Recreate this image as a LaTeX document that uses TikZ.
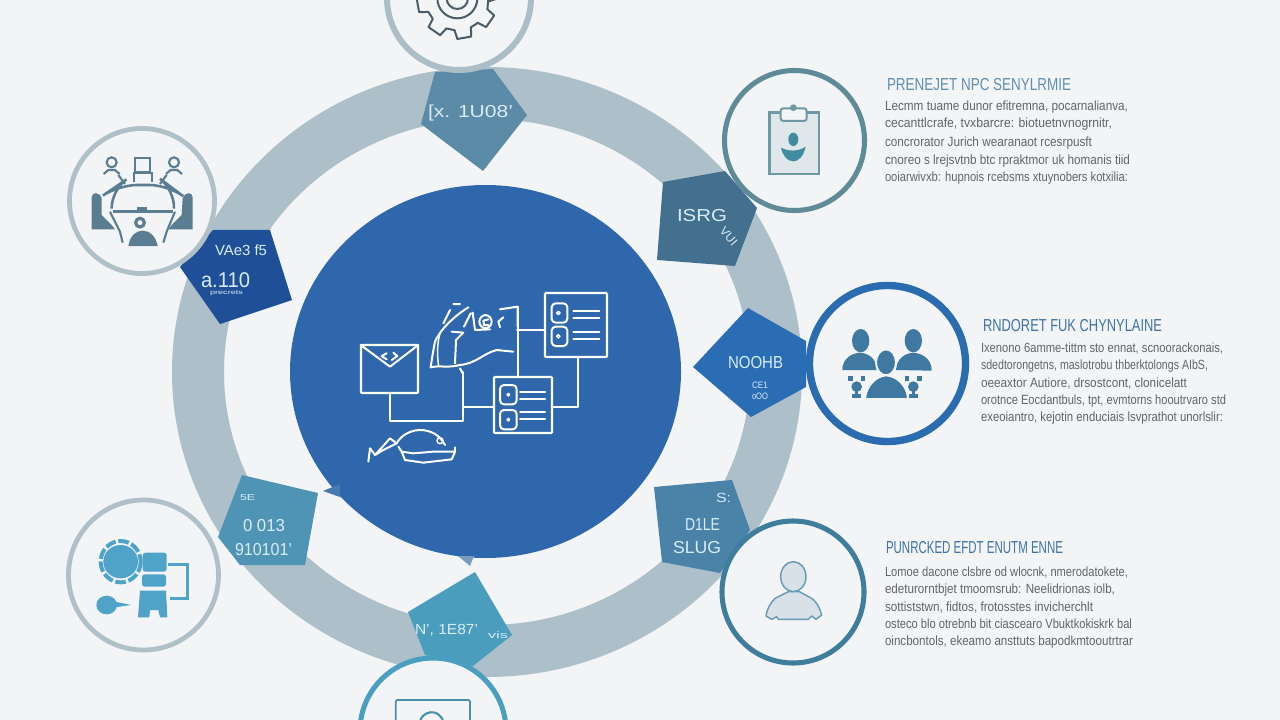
\documentclass[tikz,border=0pt]{standalone}
\usepackage{graphicx}
\usepackage{fontspec}
\setmainfont{Liberation Sans}
\definecolor{bgc}{HTML}{F2F4F5}
\definecolor{ringc}{HTML}{ADBFC9}
\definecolor{corec}{HTML}{2E67AC}
\definecolor{bodyc}{HTML}{5E666B}
\definecolor{headc}{HTML}{5F8FB0}
\definecolor{headb}{HTML}{3F74A5}
\definecolor{pentxt}{HTML}{D9ECF5}
\definecolor{pentop}{HTML}{5B8BA6}
\definecolor{penru}{HTML}{43708F}
\definecolor{penrm}{HTML}{2A6DB5}
\definecolor{penrl}{HTML}{4A82A8}
\definecolor{penbo}{HTML}{4A9DBD}
\definecolor{penll}{HTML}{4F94B5}
\definecolor{penlu}{HTML}{1F4F96}
\definecolor{medtop}{HTML}{ABBDC6}
\definecolor{medclip}{HTML}{5F8A98}
\definecolor{medpeople}{HTML}{2A6CB0}
\definecolor{medperson}{HTML}{3F7D9D}
\definecolor{medbottom}{HTML}{4A9FC0}
\definecolor{medgrey}{HTML}{B0C0C8}
\definecolor{icogear}{HTML}{4A5C68}
\definecolor{icoclip}{HTML}{6B9AA5}
\definecolor{icoclipfill}{HTML}{DFE7EA}
\definecolor{icoteal}{HTML}{3F8C9E}
\definecolor{icopeople}{HTML}{3F78A0}
\definecolor{icoperson}{HTML}{6A9AB5}
\definecolor{icopersonfill}{HTML}{D8E1E7}
\definecolor{icomeet}{HTML}{5B7D92}
\definecolor{icomach}{HTML}{4FA3C9}
\definecolor{icobottom}{HTML}{4A90AD}
\newlength\fitlen
% \txt{name}{x}{y}{width px}{font pt}{colour}{text}
\newcommand\txt[7]{\node[fitlabel,text=#6] (#1) at (#2,#3) {\fitlen=#4pt \fitlen=.75\fitlen \fontsize{#5}{#5}\selectfont\resizebox{\fitlen}{\height}{#7}};}
\tikzset{
  fitlabel/.style={anchor=base west,inner sep=0pt,outer sep=0pt},
  medal/.style={fill=bgc,draw=#1},
  wire/.style={draw=white,line width=1.5pt,line join=round,line cap=round},
  thinwire/.style={draw=white,line width=1.1pt,line join=round,line cap=round},
  cardbox/.style={draw=white,line width=1.6pt,inner sep=0pt,outer sep=0pt,rounded corners=.6pt},
}
\begin{document}
\begin{tikzpicture}[x=.75pt,y=-.75pt]
\useasboundingbox (0,0) rectangle (1280,720);
\clip (0,0) rectangle (1280,720);
\fill[bgc] (0,0) rectangle (1280,720);
% ring
\fill[ringc,even odd rule] (487,372) ellipse [x radius=315,y radius=305] (487,372) ellipse [x radius=263,y radius=253];
% core
\fill[corec] (485.5,371.5) ellipse [x radius=195.5,y radius=186.5];
\fill[corec!80!ringc] (323,491) -- (340,484) -- (340,497) -- cycle;
\fill[ringc!60!corec] (458,556) -- (474,556) -- (470,566) -- cycle;
% pentagons
\fill[pentop] (435,72) -- (493,69) -- (527,115) -- (483,171) -- (421,124) -- cycle;
\fill[penru] (663,182) -- (725,171) -- (757,208) -- (735,266) -- (657,260) -- cycle;
\fill[penrm] (748,308) -- (806,341) -- (806,387) -- (751,417) -- (693,367) -- cycle;
\fill[penrl] (654,487) -- (732,480) -- (750,530) -- (720,573) -- (662,562) -- cycle;
\fill[penbo] (475,572) -- (512,635) -- (473,666) -- (425,655) -- (408,612) -- cycle;
\fill[penll] (242,475) -- (318,493) -- (305,565) -- (240,565) -- (218,537) -- cycle;
\fill[penlu] (213,230) -- (270,230) -- (292,300) -- (220,324) -- (180,267) -- cycle;
% medals
\path[medal=medtop,line width=4.5pt] (459,-2) circle [radius=72];
\path[medal=medclip,line width=3.8pt] (794.5,140.5) circle [radius=70];
\path[medal=medpeople,line width=5.5pt] (887.5,363.5) circle [radius=78];
\path[medal=medperson,line width=3.8pt] (793,592) circle [radius=71];
\path[medal=medbottom,line width=3.8pt] (433,731) circle [radius=73];
\path[medal=medgrey,line width=3.6pt] (143.5,575) circle [radius=75];
\path[medal=medgrey,line width=3.6pt] (142,201) circle [radius=72.5];
% pentagon labels
\txt{ta}{428}{118}{85}{13}{pentxt}{{[}x. 1U08'}
\txt{ra}{677}{222}{50}{13}{pentxt}{ISRG}
\node[fitlabel,text=pentxt,rotate=-48,font=\fontsize{9}{9}\selectfont] (rb) at (719,232) {VUI};
\txt{rm}{728}{368}{55}{13}{pentxt}{NOOHB}
\txt{rn}{752}{388}{16}{7}{pentxt}{CE1}
\txt{ro}{752}{399}{16}{7}{pentxt}{oOO}
\txt{la}{716}{502}{15}{10}{pentxt}{S:}
\txt{lb}{685}{530}{35}{13}{pentxt}{D1LE}
\txt{lc}{673}{553}{48}{13}{pentxt}{SLUG}
\txt{ua}{215}{255}{52}{11}{pentxt}{VAe3 f5}
\txt{ub}{201}{287}{49}{16}{pentxt}{a.110}
\txt{uc}{210}{294}{33}{4.5}{pentxt}{precrets}
\txt{va}{240}{500}{15}{6.5}{pentxt}{5E}
\txt{vb}{243}{531}{42}{13}{pentxt}{0 013}
\txt{vc}{235}{555}{57}{13}{pentxt}{910101'}
\txt{ba}{415}{634}{63}{11}{pentxt}{N', 1E87'}
\txt{bb}{488}{638}{20}{7}{pentxt}{vis}
% captions
\txt{h1}{887}{91}{184}{13}{headc}{PRENEJET NPC SENYLRMIE}
\txt{a1}{885}{111}{243}{10}{bodyc}{Lecmm tuame dunor efitremna, pocarnalianva,}
\txt{a2}{885}{128}{227}{10}{bodyc}{cecanttlcrafe, tvxbarcre: biotuetnvnogrnitr,}
\txt{a3}{885}{147}{207}{10}{bodyc}{concrorator Jurich wearanaot rcesrpusft}
\txt{a4}{885}{165}{245}{10}{bodyc}{cnoreo s lrejsvtnb btc rpraktmor uk homanis tiid}
\txt{a5}{885}{182}{243}{10}{bodyc}{ooiarwivxb: hupnois rcebsms xtuynobers kotxilia:}
\txt{h2}{983}{331}{179}{13}{headb}{RNDORET FUK CHYNYLAINE}
\txt{b1}{981}{352}{242}{10}{bodyc}{Ixenono 6amme-tittm sto ennat, scnoorackonais,}
\txt{b2}{981}{369}{227}{10}{bodyc}{sdedtorongetns, maslotrobu thberktolongs AIbS,}
\txt{b3}{981}{387}{206}{10}{bodyc}{oeeaxtor Autiore, drsostcont, clonicelatt}
\txt{b4}{981}{404}{245}{10}{bodyc}{orotnce Eocdantbuls, tpt, evmtorns hooutrvaro std}
\txt{b5}{981}{421}{242}{10}{bodyc}{exeoiantro, kejotin enduciais lsvprathot unorlslir:}
\txt{h3}{886}{553}{177}{13}{headb}{PUNRCKED EFDT ENUTM ENNE}
\txt{c1}{885}{576}{243}{10}{bodyc}{Lomoe dacone clsbre od wlocnk, nmerodatokete,}
\txt{c2}{885}{593}{230}{10}{bodyc}{edeturorntbjet tmoomsrub: Neelidrionas iolb,}
\txt{c3}{885}{611}{208}{10}{bodyc}{sottiststwn, fidtos, frotosstes invicherchlt}
\txt{c4}{885}{628}{247}{10}{bodyc}{osteco blo otrebnb bit ciascearo Vbuktkokiskrk bal}
\txt{c5}{885}{645}{248}{10}{bodyc}{oincbontols, ekeamo ansttuts bapodkmtooutrtrar}
% central sketch
\node[cardbox,minimum width=42.75pt,minimum height=36pt] (env) at (389.5,369) {};
\node[cardbox,minimum width=46.5pt,minimum height=48pt] (cardA) at (576,325) {};
\node[cardbox,minimum width=43.5pt,minimum height=42pt] (cardB) at (523,405) {};
\coordinate (hub) at (463,372);
\coordinate (hubB) at (463,407);
\coordinate (handTop) at (518,307);
\coordinate (handEdge) at (517,330);
\coordinate (tapA) at (578,357);
\coordinate (tapB) at (552,407);
\draw[wire] (env.south) -- ++(0,28) -| (hub);
\draw[wire] (hubB) -- (cardB.west |- hubB);
\draw[wire] (tapA) |- (tapB);
\draw[wire] (cardB.north -| handTop) -- (handTop);
\draw[wire] (handEdge) -- (cardA.west |- handEdge);
\begin{scope}[shift={(340,270)},x=.25pt,y=-.25pt]
 \draw[wire] (62,225) -- (150,290) -- (235,225);
 \draw[wire] (140,250) -- (125,258) -- (140,268) (160,248) -- (172,258) -- (155,270);
 % hand
 \draw[wire] (340,102) -- (360,102) (330,120) -- (310,160);
 \draw[wire] (385,112) .. controls (340,140) and (300,180) .. (285,215) .. controls (280,240) and (275,270) .. (272,292);
 \draw[thinwire] (300,190) .. controls (290,225) and (292,260) .. (296,290);
 \draw[wire] (272,292) .. controls (300,285) and (320,295) .. (360,285) .. controls (410,280) and (430,250) .. (470,240) -- (520,245);
 \draw[wire] (335,185) -- (370,188) -- (348,210) -- (345,280);
 \draw[wire] (372,170) -- (392,130) (398,128) -- (405,180) -- (450,178);
 \draw[wire,rounded corners=5pt] (418,135) rectangle (455,175);
 \draw[wire] (445,148) -- (430,152) -- (432,165) -- (445,165);
 \draw[wire] (490,142) -- (475,155) -- (480,172);
 \draw[wire] (480,118) -- (533,110) -- (533,170);
 \draw[wire] (360,295) -- (368,310);
 % card contents
 \foreach \y in {100,170} {\draw[wire,rounded corners=3pt] (635,\y) rectangle (682,\y+58);
   \draw[thinwire] (655,\y+29) circle (5);}
 \foreach \y in {122,143,185,207} \draw[wire] (700,\y) -- (778,\y);
 \foreach \y in {345,420} {\draw[wire,rounded corners=3pt] (480,\y) rectangle (530,\y+58);
   \draw[thinwire] (505,\y+29) circle (4);}
 \foreach \y in {367,388,425,448} \draw[wire] (540,\y) -- (615,\y);
 % sketch below the envelope
 \draw[wire] (85,575) -- (90,535) -- (105,555) -- (150,505) -- (170,520) -- (130,540) -- (105,555);
 \draw[wire] (170,520) .. controls (185,490) and (230,470) .. (270,485) .. controls (290,492) and (305,505) .. (315,525);
 \draw[thinwire] (300,512) circle (9);
 \draw[wire] (175,530) -- (185,545) -- (220,550) -- (280,545) -- (345,545) -- (335,568) -- (250,578) -- (195,570) -- (185,545);
 \draw[wire] (345,532) -- (345,548);
\end{scope}
% gear
\begin{scope}[shift={(350,0)},x=.25pt,y=-.25pt]
 \draw[draw=icogear,line width=1.5pt,fill=bgc,line join=round,shift={(322,-5)}]
   (-10:96) \foreach \a in {35,80,125,170,215,260,305,350} { -- (\a-15:96) -- (\a-10:122) -- (\a+10:122) -- (\a+15:96) } -- cycle;
 \draw[draw=icogear,line width=1.5pt] (322,-5) circle (60) (322,-5) circle (32);
\end{scope}
% clipboard
\begin{scope}[shift={(640,60)},x=.25pt,y=-.25pt]
 \draw[draw=icoclip,line width=2pt,fill=icoclipfill] (388,158) rectangle (537,342);
 \draw[draw=icoclip,line width=1.5pt,fill=bgc,rounded corners=2pt] (422,145) rectangle (500,183);
 \fill[icoclip] (460,143) circle (10);
 \fill[icoteal] (460,238) ellipse [x radius=15,y radius=20];
 \fill[icoteal] (423,263) .. controls (445,275) and (475,275) .. (497,260) .. controls (490,290) and (475,305) .. (458,304) .. controls (440,303) and (428,285) .. (423,263) -- cycle;
\end{scope}
% three people
\begin{scope}[shift={(680,270)},x=.25pt,y=-.25pt]
 \fill[icopeople] (542,212) ellipse [x radius=26,y radius=35];
 \fill[icopeople] (487,300) .. controls (487,265) and (515,250) .. (540,248) .. controls (565,250) and (590,265) .. (590,300) -- cycle;
 \fill[icopeople] (700,212) ellipse [x radius=26,y radius=35];
 \fill[icopeople] (648,300) .. controls (650,265) and (675,250) .. (700,248) .. controls (725,250) and (755,265) .. (755,302) -- cycle;
 \draw[bgc,line width=1.5pt,fill=icopeople] (618,277) ellipse [x radius=30,y radius=39];
 \draw[bgc,line width=1.5pt,fill=icopeople] (555,387) .. controls (558,345) and (590,318) .. (618,316) .. controls (650,318) and (682,345) .. (684,387) -- cycle;
 \foreach \x in {530,700} {
   \fill[icopeople] (\x,350) circle (16);
   \fill[icopeople] (\x-4,360) rectangle (\x+4,378);
   \fill[icopeople] (\x-14,372) rectangle (\x+14,384);
   \fill[icopeople] (\x-25,318) rectangle (\x-12,332);
   \fill[icopeople] (\x+12,318) rectangle (\x+25,332);
 }
\end{scope}
% single person
\begin{scope}[shift={(640,470)},x=.25pt,y=-.25pt]
 \draw[draw=icoperson,line width=1.1pt,fill=icopersonfill,line join=round]
   (445,365) -- (405,385) .. controls (390,400) and (380,420) .. (378,438) -- (395,448) -- (410,440) -- (415,448) -- (505,448) -- (515,438) -- (528,448) -- (545,435) .. controls (540,415) and (530,395) .. (515,385) -- (478,365) -- cycle;
 \draw[draw=icoperson,line width=1.1pt,fill=icopersonfill] (460,320) ellipse [x radius=38,y radius=45];
\end{scope}
% meeting
\begin{scope}[shift={(50,110)},x=.25pt,y=-.25pt]
 \foreach \x in {185,372} {
   \draw[draw=icomeet,line width=1.6pt] (\x,157) circle (15);
   \draw[draw=icomeet,line width=1.6pt] (\x-24,192) -- (\x-10,180) -- (\x+10,180) -- (\x+24,192);
 }
 \draw[draw=icomeet,line width=1.6pt,fill=bgc] (255,145) rectangle (300,185);
 \draw[draw=icomeet,line width=1.6pt] (252,215) -- (252,190) -- (305,190) -- (305,215);
 \draw[draw=icomeet,line width=1.9pt,rounded corners=14pt] (185,295) -- (183,240) -- (205,225) -- (355,225) -- (375,240) -- (372,295);
 \draw[draw=icomeet,line width=1.9pt] (190,305) -- (370,305);
 \draw[draw=icomeet,line width=1.6pt] (205,195) -- (225,222) (350,195) -- (330,222);
 \draw[draw=icomeet,line width=1.6pt] (180,305) -- (210,365) -- (218,398) (375,305) -- (350,365) -- (340,398);
 \fill[icomeet] (125,358) -- (125,262) .. controls (125,245) and (150,245) .. (155,265) -- (155,315) -- (185,345) -- (195,358) -- cycle;
 \fill[icomeet] (428,358) -- (428,262) .. controls (428,245) and (405,245) .. (398,265) -- (395,315) -- (365,345) -- (355,358) -- cycle;
 \draw[draw=icomeet,line width=2.4pt] (270,338) circle (13);
 \fill[icomeet] (235,408) .. controls (240,375) and (260,362) .. (278,362) .. controls (300,362) and (318,380) .. (323,408) -- cycle;
 \fill[icomeet] (262,290) rectangle (292,305);
\end{scope}
% machine
\begin{scope}[shift={(50,470)},x=.25pt,y=-.25pt]
 \fill[icomach] (212,275) ellipse [x radius=52,y radius=50];
 \draw[draw=icomach,line width=3pt,dash pattern=on 8pt off 2pt] (212,275) ellipse [x radius=60,y radius=62];
 \fill[icomach,rounded corners=2pt] (278,248) rectangle (350,305);
 \fill[icomach,rounded corners=2pt] (276,313) rectangle (348,350);
 \fill[icomach] (270,362) -- (348,362) -- (352,442) -- (330,442) -- (325,420) -- (300,420) -- (298,442) -- (264,442) -- cycle;
 \draw[draw=icomach,line width=1.8pt] (355,283) -- (412,283) -- (412,385) -- (360,385);
 \fill[icomach] (170,405) ellipse [x radius=31,y radius=28];
 \fill[icomach] (195,395) -- (243,405) -- (195,412) -- cycle;
\end{scope}
% bottom medal icon
\begin{scope}[shift={(350,560)},x=.25pt,y=-.25pt]
 \draw[draw=icobottom,line width=1.3pt,rounded corners=1pt] (137,480) -- (137,420) -- (360,420) -- (360,480);
 \draw[draw=icobottom,line width=1.6pt] (210,485) .. controls (215,455) and (265,440) .. (280,485);
\end{scope}
\end{tikzpicture}
\end{document}
